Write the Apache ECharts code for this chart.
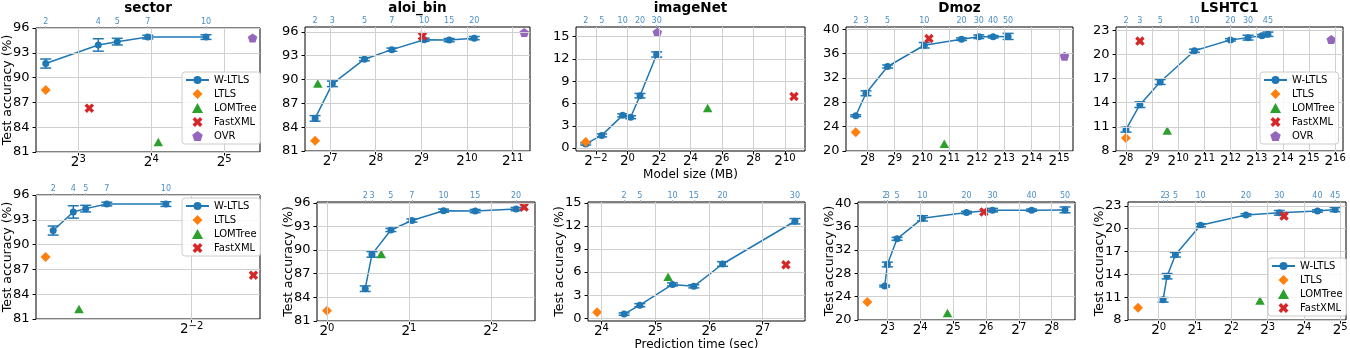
<!DOCTYPE html>
<html>
<head>
<meta charset="utf-8">
<script src="https://cdn.jsdelivr.net/npm/echarts@6/dist/echarts.min.js"></script>
<style>
  html, body { margin: 0; padding: 0; background: #fff; }
  #main { width: 1350px; height: 348px; }
</style>
</head>
<body>
<div id="main"></div>
<script>
// ---- W-LTLS runs: slice width, test accuracy (%), std, model size (MB), prediction time (sec)
const sectorW = [2, 4, 5, 7, 10];
const sectorAcc = [91.7, 93.95, 94.35, 94.9, 94.9];
const sectorErr = [0.55, 0.75, 0.4, 0.22, 0.28];
const sectorSize = [5.87, 9.67, 11.58, 15.47, 26.9];
const sectorTime = [0.1657, 0.1759, 0.1825, 0.1943, 0.2316];

const aloiW = [2, 3, 5, 7, 10, 15, 20];
const aloiAcc = [85.1, 89.45, 92.55, 93.75, 95.0, 94.95, 95.2];
const aloiErr = [0.35, 0.35, 0.2, 0.2, 0.2, 0.2, 0.2];
const aloiSize = [101.9, 132.5, 215.6, 326.9, 534.1, 781.3, 1142.5];
const aloiTime = [1.382, 1.463, 1.717, 2.052, 2.681, 3.504, 4.955];

const imagenetW = [2, 5, 10, 15, 20, 30];
const imagenetAcc = [0.55, 1.7, 4.4, 4.15, 7.05, 12.6];
const imagenetErr = [0.15, 0.2, 0.2, 0.2, 0.3, 0.35];
const imagenetSize = [0.1587, 0.3209, 0.8083, 1.1487, 1.734, 3.61];
const imagenetTime = [21.44, 26.25, 40.03, 52.71, 76.38, 194.3];

const dmozW = [2, 3, 5, 10, 20, 30, 40, 50];
const dmozAcc = [25.8, 29.5, 33.9, 37.4, 38.4, 38.8, 38.8, 38.85];
const dmozErr = [0.15, 0.4, 0.25, 0.45, 0.2, 0.3, 0.2, 0.5];
const dmozSize = [190.7, 247.3, 427.9, 1081, 2776, 4300, 6178, 9027];
const dmozTime = [7.563, 8.0, 9.815, 16.76, 42.49, 73.52, 167.7, 339.5];

const lshtcW = [2, 3, 5, 10, 20, 30, 40, 45];
const lshtcAcc = [10.65, 13.75, 16.57, 20.45, 21.8, 22.08, 22.32, 22.5];
const lshtcErr = [0.3, 0.35, 0.3, 0.2, 0.15, 0.3, 0.15, 0.27];
const lshtcSize = [256, 370.7, 634.7, 1573.8, 4082, 6517, 9410, 11036];
const lshtcTime = [1.0867, 1.1728, 1.3755, 2.221, 5.289, 10.01, 20.73, 29.08];

// ---- baselines, order: LTLS, LOMTree, FastXML, OVR (OVR has no time)
const baselineNames = ['LTLS', 'LOMTree', 'FastXML', 'OVR'];
const sectorBaseAcc = [88.5, 82.2, 86.3, 94.8];
const sectorBaseSize = [5.87, 17.1, 8.88, 41.9];
const sectorBaseTime = [0.162, 0.1789, 0.3004];
const aloiBaseAcc = [82.3, 89.5, 95.45, 95.9];
const aloiBaseSize = [101.9, 106.2, 520.6, 2442];
const aloiBaseTime = [1.0, 1.583, 5.304];
const imagenetBaseAcc = [0.8, 5.4, 6.95, 15.6];
const imagenetBaseSize = [0.1587, 34.06, 1520, 3.716];
const imagenetBaseTime = [15.14, 37.84, 173.0];
const dmozBaseAcc = [23.1, 21.2, 38.5, 35.6];
const dmozBaseSize = [190.7, 1795, 1218, 37641];
const dmozBaseTime = [5.24, 28.44, 61.27];
const lshtcBaseAcc = [9.6, 10.55, 21.65, 21.85];
const lshtcBaseSize = [256, 765.3, 370.7, 59065];
const lshtcBaseTime = [0.6731, 6.916, 10.95];

// W labels left out on the model-size row where they collide
const imagenetSizeHidden = [15];
const lshtcSizeHidden = [40];

const sets = [
  { title: 'sector', w: sectorW, acc: sectorAcc, err: sectorErr, size: sectorSize, time: sectorTime,
    bAcc: sectorBaseAcc, bSize: sectorBaseSize, bTime: sectorBaseTime, hide: [] },
  { title: 'aloi_bin', w: aloiW, acc: aloiAcc, err: aloiErr, size: aloiSize, time: aloiTime,
    bAcc: aloiBaseAcc, bSize: aloiBaseSize, bTime: aloiBaseTime, hide: [] },
  { title: 'imageNet', w: imagenetW, acc: imagenetAcc, err: imagenetErr, size: imagenetSize, time: imagenetTime,
    bAcc: imagenetBaseAcc, bSize: imagenetBaseSize, bTime: imagenetBaseTime, hide: imagenetSizeHidden },
  { title: 'Dmoz', w: dmozW, acc: dmozAcc, err: dmozErr, size: dmozSize, time: dmozTime,
    bAcc: dmozBaseAcc, bSize: dmozBaseSize, bTime: dmozBaseTime, hide: [] },
  { title: 'LSHTC1', w: lshtcW, acc: lshtcAcc, err: lshtcErr, size: lshtcSize, time: lshtcTime,
    bAcc: lshtcBaseAcc, bSize: lshtcBaseSize, bTime: lshtcBaseTime, hide: lshtcSizeHidden }
];

// ---- layout: plot box [left, top, width, height], x range (log2), x tick step, y range, y ticks [from, to, step]
const layout = [
  { set: 0, row: 0, box: [36, 28, 224, 124], xr: [2.42, 5.49], xs: 1, yr: [81, 96], yt: [81, 96, 3], yName: true },
  { set: 1, row: 0, box: [305, 27, 225, 124], xr: [6.45, 11.38], xs: 1, yr: [81, 96.6], yt: [81, 96, 3] },
  { set: 2, row: 0, box: [576, 27, 229, 124], xr: [-3.27, 11.27], xs: 2, yr: [-0.4, 16.3], yt: [0, 15, 3], xName: 'Model size (MB)' },
  { set: 3, row: 0, box: [846, 27, 227, 124], xr: [7.22, 15.51], xs: 1, yr: [20, 40.4], yt: [20, 40, 4] },
  { set: 4, row: 0, box: [1116, 27, 227, 124], xr: [7.62, 16.3], xs: 1, yr: [8, 23.4], yt: [8, 23, 3] },
  { set: 0, row: 1, box: [36, 195, 224, 124], xr: [-2.667, -1.707], xs: 1, yr: [81, 96], yt: [81, 96, 3], yName: true },
  { set: 1, row: 1, box: [317, 202, 218, 119], xr: [-0.122, 2.54], xs: 1, yr: [81, 96.1], yt: [81, 96, 3], yName: true },
  { set: 2, row: 1, box: [588, 202, 217, 119], xr: [3.75, 7.79], xs: 1, yr: [-0.35, 15.1], yt: [0, 15, 3], yName: true, xName: 'Prediction time (sec)' },
  { set: 3, row: 1, box: [858, 202, 217, 118], xr: [2.106, 8.71], xs: 1, yr: [20, 40.2], yt: [20, 40, 4], yName: true },
  { set: 4, row: 1, box: [1128, 202, 218, 118], xr: [-0.847, 5.16], xs: 1, yr: [8, 23.5], yt: [8, 23, 3], yName: true }
];

const legendSpots = [
  { left: 182, top: 72, n: 5 },
  { left: 1260, top: 72, n: 5 },
  { left: 182, top: 198, n: 4 },
  { left: 1268, top: 258, n: 4 }
];

const FONT = 'DejaVu Sans';
const BLUE = '#1f77b4';
const LABEL_BLUE = '#4a8fc7';
const GRID_GRAY = '#d0d0d0';
const markerColors = ['#ff7f0e', '#2ca02c', '#d62728', '#9467bd'];
const markerShapes = [
  'path://M5,0L10,5L5,10L0,5Z',
  'path://M5,0L10,9L0,9Z',
  'path://M2.5,0L5,2.5L7.5,0L10,2.5L7.5,5L10,7.5L7.5,10L5,7.5L2.5,10L0,7.5L2.5,5L0,2.5Z',
  'path://M5,0L10,3.63L8.09,9.51L1.91,9.51L0,3.63Z'
];
const markerSizes = [10, 9.5, 9.5, 9.5];

function range(a, b, s) {
  const out = [];
  for (let v = a; v <= b + 1e-9; v += s) out.push(+v.toFixed(6) || 0);
  return out;
}

function powLabel(v) {
  const n = Math.round(v);
  return '{b|2}{s|' + (n < 0 ? '\u2212' + (-n) : n) + '}';
}

function renderErr(params, api) {
  const x = api.value(0), y = api.value(1), e = api.value(2);
  const lo = api.coord([x, y - e]);
  const hi = api.coord([x, y + e]);
  const cap = 5.5;
  const st = { stroke: BLUE, lineWidth: 1.5 };
  return {
    type: 'group',
    children: [
      { type: 'line', shape: { x1: lo[0], y1: lo[1], x2: hi[0], y2: hi[1] }, style: st },
      { type: 'line', shape: { x1: lo[0] - cap, y1: lo[1], x2: lo[0] + cap, y2: lo[1] }, style: st },
      { type: 'line', shape: { x1: hi[0] - cap, y1: hi[1], x2: hi[0] + cap, y2: hi[1] }, style: st }
    ]
  };
}

const grids = [], xAxes = [], yAxes = [], series = [], graphics = [];

layout.forEach((p, i) => {
  const s = sets[p.set];
  const timeRow = p.row === 1;
  const xs = (timeRow ? s.time : s.size).map(Math.log2);
  const [left, top, width, height] = p.box;
  const xi = xAxes.length;

  grids.push({
    left, top, width, height, show: true, borderColor: '#000', borderWidth: 1,
    containLabel: false, outerBoundsMode: 'none'
  });

  const xStart = Math.ceil(p.xr[0] / p.xs) * p.xs;
  const xTicks = range(xStart, p.xr[1], p.xs);
  xAxes.push({
    type: 'value', gridIndex: i, position: 'bottom', min: p.xr[0], max: p.xr[1],
    axisLine: { show: false, onZero: false },
    axisTick: { show: true, customValues: xTicks, length: 3.5, lineStyle: { color: '#000' } },
    splitLine: { show: false },
    axisLabel: {
      customValues: xTicks, margin: 2, formatter: powLabel,
      showMinLabel: true, showMaxLabel: true,
      rich: {
        b: { fontSize: 13.5, fontFamily: FONT, color: '#000', lineHeight: 16 },
        s: { fontSize: 10, fontFamily: FONT, color: '#000', lineHeight: 3.4, verticalAlign: 'top' }
      }
    },
    name: p.xName || '', nameLocation: 'middle', nameGap: 14,
    nameTextStyle: { fontSize: 12, fontFamily: FONT, color: '#000' }
  });

  // top axes: slice width W of each W-LTLS point, alternate points on two axes so close labels both show
  const hidden = timeRow ? [] : s.hide;
  [0, 1].forEach((parity) => {
    const vals = xs.filter((v, k) => k % 2 === parity && hidden.indexOf(s.w[k]) < 0);
    xAxes.push({
      type: 'value', gridIndex: i, position: 'top', offset: 0, min: p.xr[0], max: p.xr[1],
      axisLine: { show: false, onZero: false },
      splitLine: { show: false },
      axisTick: { show: true, customValues: vals, length: 2, lineStyle: { color: '#8db8dc' } },
      axisLabel: {
        customValues: vals, margin: 2, fontSize: 8, fontFamily: FONT, color: LABEL_BLUE,
        showMinLabel: true, showMaxLabel: true,
        formatter: (v) => {
          let k = 0;
          xs.forEach((x, j) => { if (Math.abs(x - v) < Math.abs(xs[k] - v)) k = j; });
          return String(s.w[k]);
        }
      }
    });
  });

  const yTicks = range(p.yt[0], p.yt[1], p.yt[2]);
  yAxes.push({
    type: 'value', gridIndex: i, min: p.yr[0], max: p.yr[1],
    axisLine: { show: false, onZero: false },
    axisTick: { show: true, customValues: yTicks, length: 3.5, lineStyle: { color: '#000' } },
    splitLine: { show: false },
    axisLabel: {
      customValues: yTicks, margin: 6.5, fontSize: 13, fontFamily: FONT, color: '#000',
      showMinLabel: true, showMaxLabel: true
    }
  });

  // grid lines at the tick values
  series.push({
    type: 'line', name: 'grid', xAxisIndex: xi, yAxisIndex: i, z: 1, silent: true, data: [],
    markLine: {
      silent: true, symbol: ['none', 'none'], animation: false,
      label: { show: false }, emphasis: { disabled: true },
      lineStyle: { color: GRID_GRAY, width: 1, type: 'solid' },
      data: xTicks.map((v) => ({ xAxis: v })).concat(yTicks.map((v) => ({ yAxis: v })))
    }
  });

  series.push({
    type: 'custom', name: 'err', xAxisIndex: xi, yAxisIndex: i, z: 2, silent: true,
    dimensions: ['x', 'y', 'e'], encode: { x: 0, y: 1 },
    data: xs.map((x, k) => [x, s.acc[k], s.err[k]]),
    renderItem: renderErr
  });
  series.push({
    name: 'W-LTLS', type: 'line', xAxisIndex: xi, yAxisIndex: i, z: 3, silent: true,
    data: xs.map((x, k) => [x, s.acc[k]]),
    symbol: 'circle', symbolSize: 7, showSymbol: true,
    lineStyle: { color: BLUE, width: 1.5 }, itemStyle: { color: BLUE }
  });

  const bx = timeRow ? s.bTime : s.bSize;
  bx.forEach((v, k) => {
    series.push({
      name: baselineNames[k], type: 'scatter', xAxisIndex: xi, yAxisIndex: i, z: 4, silent: true,
      data: [[Math.log2(v), s.bAcc[k]]],
      symbol: markerShapes[k], symbolSize: markerSizes[k], symbolKeepAspect: true,
      itemStyle: { color: markerColors[k], opacity: 1 }
    });
  });

  if (!timeRow) {
    graphics.push({
      type: 'text', x: left + width / 2, y: 8,
      style: { text: s.title, font: 'bold 13.5px "DejaVu Sans"', fill: '#000', align: 'center', verticalAlign: 'middle' }
    });
  }
  if (p.yName) {
    graphics.push({
      type: 'text', x: left - 28, y: top + height / 2, rotation: Math.PI / 2,
      style: { text: 'Test accuracy (%)', font: '12.5px "DejaVu Sans"', fill: '#000', align: 'center', verticalAlign: 'middle' }
    });
  }
});

const legends = legendSpots.map((l) => ({
  left: l.left, top: l.top, orient: 'vertical', z: 10,
  data: ['W-LTLS'].concat(baselineNames).slice(0, l.n),
  itemWidth: 23, itemHeight: 10, itemGap: 4, padding: [3, 4, 3, 3],
  symbolKeepAspect: true,
  borderColor: '#cccccc', borderWidth: 1, borderRadius: 3, backgroundColor: 'rgba(255,255,255,0.85)',
  textStyle: { fontSize: 10, fontFamily: FONT, color: '#000' },
  selectedMode: false
}));

const chart = echarts.init(document.getElementById('main'), null, { renderer: 'canvas' });
chart.setOption({
  animation: false,
  backgroundColor: '#fff',
  grid: grids,
  xAxis: xAxes,
  yAxis: yAxes,
  legend: legends,
  graphic: graphics,
  series: series
});
</script>
</body>
</html>
